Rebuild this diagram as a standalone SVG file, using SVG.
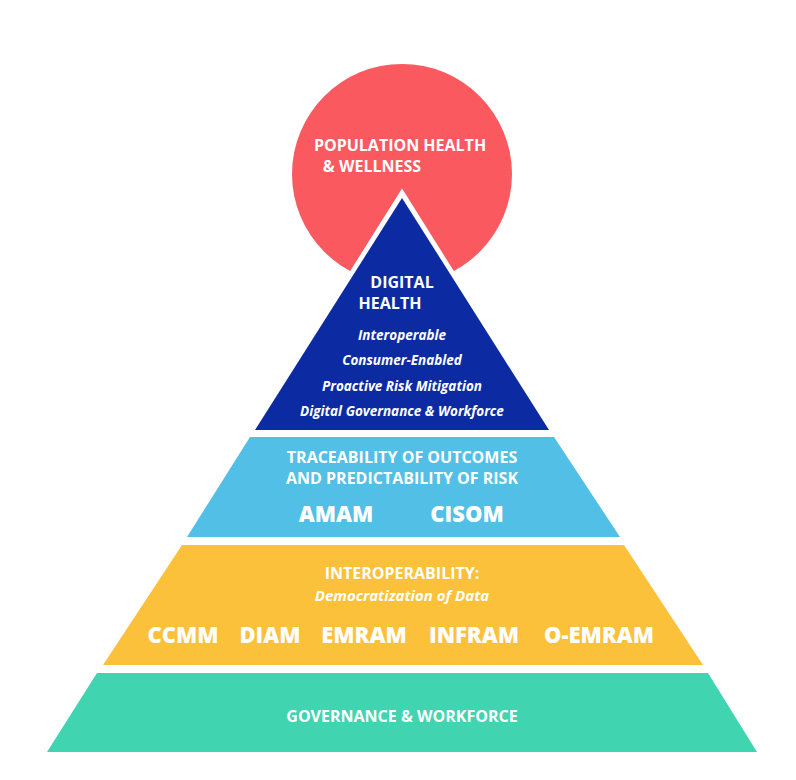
<svg xmlns="http://www.w3.org/2000/svg" width="796" height="780" viewBox="0 0 796 780">
<style>
text{font-family:"Open Sans","Liberation Sans",sans-serif;fill:#fff;text-anchor:middle}
.h{font-weight:bold;font-size:16px}
.i{font-style:italic;font-weight:bold;font-size:13.5px}
.b{font-weight:800;font-size:22px}
</style>
<rect width="796" height="780" fill="#fff"/>
<g id="circle"><circle cx="402" cy="174" r="110" fill="#F9595F"/>
<text class="h" x="400" y="151">POPULATION HEALTH</text><text class="h" x="372" y="172">&amp; WELLNESS</text></g>
<g id="digital"><polygon points="402,196 549,430 255,430" fill="#0C2BA3" stroke="#fff" stroke-width="8" stroke-linejoin="miter"/>
<polygon points="402,198 549,430 255,430" fill="#0C2BA3"/>
<text class="h" x="402" y="288">DIGITAL</text><text class="h" x="390" y="309">HEALTH</text>
<text class="i" x="402" y="340">Interoperable</text>
<text class="i" x="402" y="365">Consumer-Enabled</text>
<text class="i" x="402" y="391">Proactive Risk Mitigation</text>
<text class="i" x="402" y="416">Digital Governance &amp; Workforce</text></g>
<g id="trace"><polygon points="250,437 554,437 620,537 187,537" fill="#52BFE6"/>
<text class="h" x="402" y="463">TRACEABILITY OF OUTCOMES</text>
<text class="h" x="402" y="484">AND PREDICTABILITY OF RISK</text>
<text class="b" x="336" y="522">AMAM</text><text class="b" x="467" y="522">CISOM</text></g>
<g id="interop"><polygon points="182,545 624,545 703,665 103,665" fill="#FCC13A"/>
<text class="h" x="402" y="579">INTEROPERABILITY:</text>
<text class="i" x="402" y="601" style="font-size:15px">Democratization of Data</text>
<text class="b" x="183" y="643">CCMM</text><text class="b" x="270" y="643">DIAM</text>
<text class="b" x="364" y="643">EMRAM</text><text class="b" x="474" y="643">INFRAM</text>
<text class="b" x="599" y="643">O-EMRAM</text></g>
<g id="gov"><polygon points="97,673 708,673 757,752 47,752" fill="#41D4B1"/>
<text class="h" x="402" y="722">GOVERNANCE &amp; WORKFORCE</text></g>
<g id="connectors"/>
</svg>
